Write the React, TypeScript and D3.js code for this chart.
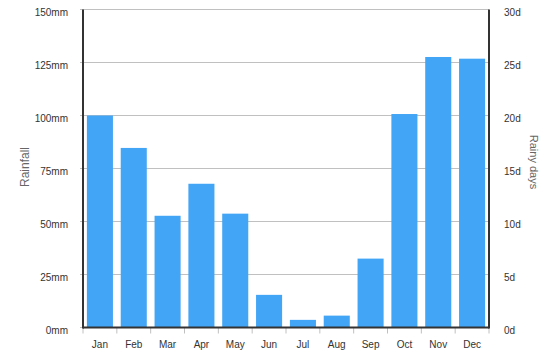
import React from "react";
import * as d3 from "d3";

const months = ["Jan", "Feb", "Mar", "Apr", "May", "Jun", "Jul", "Aug", "Sep", "Oct", "Nov", "Dec"];
const rainfall = [100, 84.7, 52.7, 67.8, 53.7, 15.4, 3.6, 5.6, 32.5, 100.7, 127.6, 126.8];
const leftTicks = [0, 25, 50, 75, 100, 125, 150];
const rightTicks = [0, 5, 10, 15, 20, 25, 30];

const W = 551, H = 359;
const M = { left: 83, right: 62, top: 9.5, bottom: 31.5 };

export default function App() {
  const x = d3.scaleBand<string>().domain(months).range([M.left, W - M.right]).paddingInner(0.23).paddingOuter(0.115);
  const band = d3.scaleBand<string>().domain(months).range([M.left, W - M.right]);
  const y = d3.scaleLinear().domain([0, 150]).range([H - M.bottom, M.top]);
  const yR = d3.scaleLinear().domain([0, 30]).range([H - M.bottom, M.top]);
  const font = "Arial, 'Liberation Sans', sans-serif";
  const x0 = M.left, x1 = W - M.right, yb = H - M.bottom;
  return (
    <svg width={W} height={H} style={{ position: "absolute", left: 0, top: 0 }} fontFamily={font}>
      {leftTicks.map((t) => (
        <line key={"g" + t} x1={x0 - 3} x2={x1} y1={y(t)} y2={y(t)} stroke="#c0c0c0" strokeWidth={1} />
      ))}
      {months.map((m, i) => (
        <rect key={m} x={x(m)} width={x.bandwidth()} y={y(rainfall[i])} height={yb - y(rainfall[i])} fill="#42a5f5" />
      ))}
      {months.map((m) => (
        <line key={"t" + m} x1={band(m)! + band.bandwidth()} x2={band(m)! + band.bandwidth()} y1={yb} y2={yb + 6} stroke="#c0c0c0" />
      ))}
      <line x1={x0} x2={x0} y1={yb + 6} y2={yb} stroke="#c0c0c0" />
      <line x1={x0} x2={x1} y1={yb} y2={yb} stroke="#333" strokeWidth={2} />
      <line x1={x0} x2={x0} y1={M.top} y2={yb + 1} stroke="#333" strokeWidth={2} />
      <line x1={x1} x2={x1} y1={M.top} y2={yb + 1} stroke="#333" strokeWidth={2} />
      {leftTicks.map((t) => (
        <text key={"l" + t} x={68} y={y(t) + 3} dy="0.35em" textAnchor="end" fontSize={10} fill="#333">{t}mm</text>
      ))}
      {rightTicks.map((t) => (
        <text key={"r" + t} x={504} y={yR(t) + 3} dy="0.35em" textAnchor="start" fontSize={10} fill="#333">{t}d</text>
      ))}
      {months.map((m) => (
        <text key={"x" + m} x={band(m)! + band.bandwidth() / 2} y={348} textAnchor="middle" fontSize={10} fill="#333">{m}</text>
      ))}
      <text transform={`translate(29,${167}) rotate(-90)`} textAnchor="middle" fontSize={12} fill="#666">Rainfall</text>
      <text transform={`translate(530,${162}) rotate(90)`} textAnchor="middle" fontSize={11} fill="#666">Rainy days</text>
    </svg>
  );
}
